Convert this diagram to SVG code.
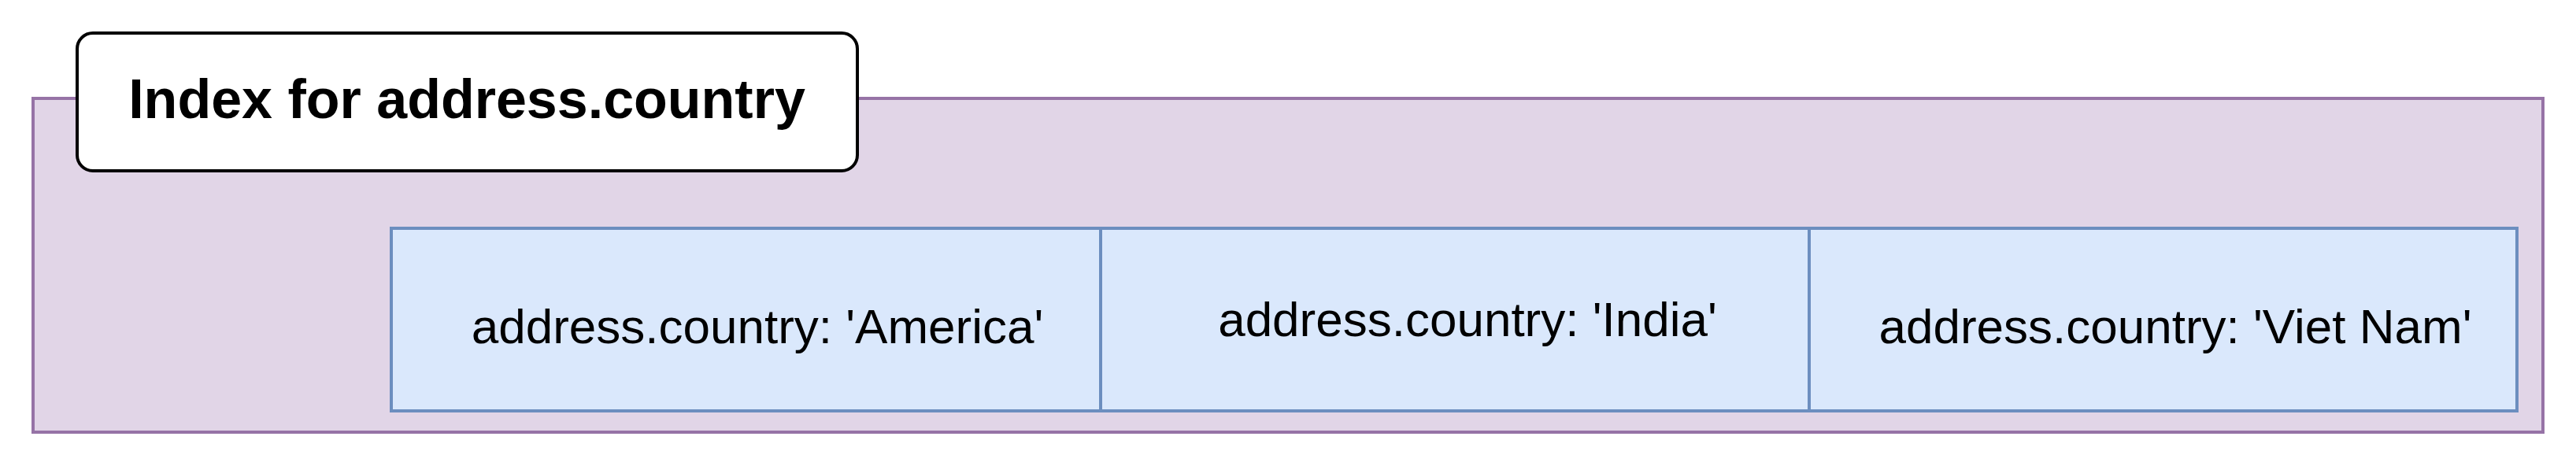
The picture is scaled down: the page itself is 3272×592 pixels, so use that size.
<svg xmlns="http://www.w3.org/2000/svg" width="3272" height="592" viewBox="0 0 3272 592">
<style>
.cell{fill:#dae8fc;stroke:#6c8ebf;stroke-width:4}
.lbl{font-family:"Liberation Sans",Arial,sans-serif;font-size:62px;fill:#000;text-anchor:middle}
</style>
<rect width="3272" height="592" fill="#fff"/>
<g id="container"><rect x="42" y="125" width="3188" height="424" fill="#e1d5e7" stroke="#9673a6" stroke-width="4"/></g>
<g id="title"><rect x="98" y="42" width="991" height="175" rx="20" fill="#fff" stroke="#000" stroke-width="4"/>
<text x="593" y="150" class="lbl" style="font-weight:bold;font-size:70px">Index for address.country</text></g>
<g id="america"><rect class="cell" x="497" y="290" width="901" height="232"/><text class="lbl" x="962" y="436">address.country: 'America'</text></g>
<g id="india"><rect class="cell" x="1398" y="290" width="900" height="232"/><text class="lbl" x="1864" y="427">address.country: 'India'</text></g>
<g id="vietnam"><rect class="cell" x="2298" y="290" width="899" height="232"/><text class="lbl" x="2763" y="436">address.country: 'Viet Nam'</text></g>
<g id="connectors"></g>
</svg>
